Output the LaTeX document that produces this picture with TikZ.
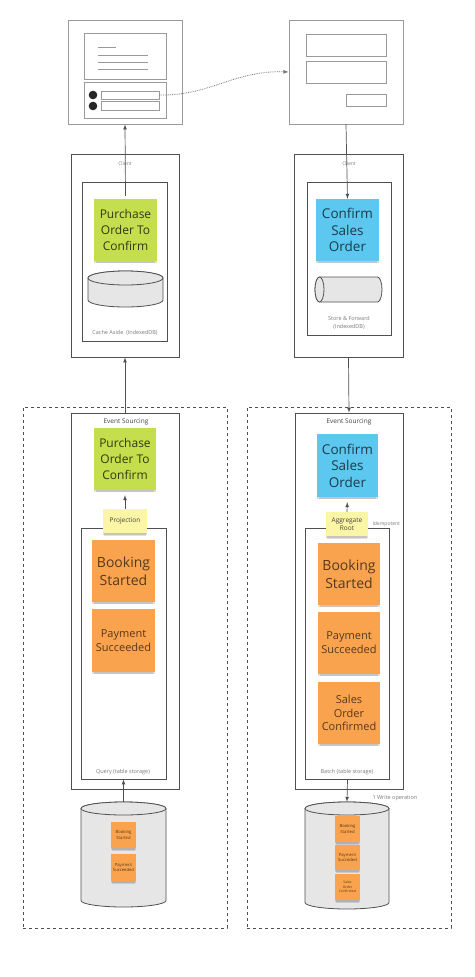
\documentclass[tikz,border=0pt]{standalone}
\usepackage{fontspec}
\setmainfont{Open Sans}
\usetikzlibrary{shadows}

\definecolor{stgreen}{HTML}{C5DE4E}
\definecolor{stblue}{HTML}{5CC8F0}
\definecolor{storange}{HTML}{F9A34E}
\definecolor{styellow}{HTML}{FBF6A6}
\definecolor{framegray}{HTML}{9A9A9A}
\definecolor{boxgray}{HTML}{505050}
\definecolor{labgray}{HTML}{7A7A7A}
\definecolor{dbfill}{HTML}{E6E6E6}

% upright database: centre x, top, bottom, x radius, y radius
\newcommand\drawdbv[5]{%
  \draw[dbline] (#1-#4,#2+#5) -- (#1-#4,#3-#5) arc (180:0:#4 and #5) -- (#1+#4,#2+#5) arc (0:-180:#4 and #5) -- cycle;
  \draw[dbline] (#1,#2+#5) ellipse (#4 and #5);}
% lying database: left, right, top, bottom, x radius
\newcommand\drawdbh[5]{%
  \draw[dbline] (#1+#5,#3) -- (#2-#5,#3) arc (-90:90:#5 and {(#4-#3)/2}) -- (#1+#5,#4) arc (90:270:#5 and {(#4-#3)/2}) -- cycle;
  \draw[dbline] (#1+#5,{(#3+#4)/2}) ellipse (#5 and {(#4-#3)/2});}

\begin{document}
\begin{tikzpicture}[x=1pt, y=-1pt,
    frame/.style = {draw=framegray, line width=0.9pt},
    box/.style = {draw=boxgray, line width=0.8pt},
    zone/.style = {draw=boxgray, line width=0.8pt, dashed},
    sticky/.style = {inner sep=1pt, align=center,
        drop shadow={shadow xshift=0pt, shadow yshift=-2pt, opacity=.12, fill=black},
        drop shadow={shadow xshift=0pt, shadow yshift=-4pt, shadow scale=0.94, opacity=.12, fill=black}},
    green/.style = {sticky, fill=stgreen, text=black!75!stgreen},
    blue/.style = {sticky, fill=stblue, text=black!70!stblue},
    orange/.style = {sticky, fill=storange, text=black!65!storange},
    note/.style = {sticky, fill=styellow, text=black!75, font=\fontsize{6.5}{7.5}\selectfont},
    dbline/.style = {draw=boxgray, fill=dbfill, line width=0.8pt},
    db/.style = {inner sep=0pt},
    lab/.style = {text=labgray, font=\fontsize{5}{6}\selectfont, align=center},
    ar/.style = {draw=boxgray, line width=0.7pt, -latex}]
    \useasboundingbox (0,0) rectangle (474,977);

    % browser screens
    \node[frame, minimum width=114pt, minimum height=104pt] (browserL) at (125,72) {};
    \node[frame, minimum width=82pt, minimum height=46pt] (textL) at (125,56) {};
    \node[frame, minimum width=82pt, minimum height=36pt] (formL) at (125,100) {};
    \draw[framegray, line width=0.8pt] (98,47) -- (116,47);
    \draw[framegray, line width=0.8pt] (98,55) -- (148,55);
    \draw[framegray, line width=0.8pt] (98,62) -- (148,62);
    \draw[framegray, line width=0.8pt] (98,69) -- (148,69);
    \node[circle, fill=black!85, minimum size=8.6pt, inner sep=0pt] (dot1) at (93,95) {};
    \node[circle, fill=black!85, minimum size=8.6pt, inner sep=0pt] (dot2) at (93,106) {};
    \node[frame, minimum width=58pt, minimum height=8pt, inner sep=0pt] (in1) at (130,95) {};
    \node[frame, minimum width=58pt, minimum height=9pt, inner sep=0pt] (in2) at (130,105.5) {};

    \node[frame, minimum width=114pt, minimum height=104pt] (browserR) at (346,72) {};
    \node[frame, minimum width=80pt, minimum height=22pt] (fieldR1) at (346,45) {};
    \node[frame, minimum width=80pt, minimum height=22pt] (fieldR2) at (346,72) {};
    \node[frame, minimum width=40pt, minimum height=12pt] (btnR) at (366,100) {};

    % clients
    \node[box, minimum width=108pt, minimum height=203pt] (clientL) at (125,255.5) {};
    \node[lab] (clientLlab) at (125,164) {Client};
    \node[box, minimum width=85pt, minimum height=159pt] (cacheL) at (124.5,261.5) {};
    \node[green, minimum width=63pt, minimum height=62pt, font=\fontsize{12}{16}\selectfont] (po1) at (125.5,230) {Purchase\\Order To\\Confirm};
    \drawdbv{125.5}{271}{307}{37.5}{7}
    \node[db, minimum width=75pt, minimum height=36pt] (cacheDb) at (125.5,289) {};
    \node[lab, font=\fontsize{5.5}{6.5}\selectfont] (cacheLab) at (125,333) {Cache Aside\ \ (IndexedDB)};

    \node[box, minimum width=109pt, minimum height=203pt] (clientR) at (348.5,255.5) {};
    \node[lab] (clientRlab) at (349,164) {Client};
    \node[box, minimum width=84pt, minimum height=153pt] (storeR) at (349,258.5) {};
    \node[blue, minimum width=63pt, minimum height=62pt, font=\fontsize{13.5}{16.5}\selectfont] (cso1) at (347.5,230) {Confirm\\Sales\\Order};
    \drawdbh{315}{382}{277}{302}{4.5}
    \node[db, minimum width=67pt, minimum height=25pt] (storeDb) at (348.5,289.5) {};
    \node[lab, font=\fontsize{5.5}{8}\selectfont] (storeLab) at (349,323) {Store \& Forward\\(IndexedDB)};

    % event sourcing, query side
    \node[zone, minimum width=204pt, minimum height=521pt] (zoneL) at (125,667.5) {};
    \node[box, minimum width=108pt, minimum height=376pt] (esL) at (125,601) {};
    \node[font=\fontsize{6.5}{7.5}\selectfont, text=black!75] (esLlab) at (126,422) {Event Sourcing};
    \node[green, minimum width=62pt, minimum height=62pt, font=\fontsize{12}{16}\selectfont] (po2) at (125,459) {Purchase\\Order To\\Confirm};
    \node[box, minimum width=85pt, minimum height=251pt] (queryL) at (123.5,653.5) {};
    \node[lab, font=\fontsize{5.5}{6.5}\selectfont] (queryLab) at (123,772) {Query (table storage)};
    \node[note, minimum width=44pt, minimum height=24pt] (proj) at (125,521) {Projection};
    \node[orange, minimum width=63pt, minimum height=62pt, font=\fontsize{14}{18}\selectfont] (bsL) at (123.5,571) {Booking\\Started};
    \node[orange, minimum width=63pt, minimum height=63pt, font=\fontsize{11}{14}\selectfont] (psL) at (123.5,640.5) {Payment\\Succeeded};
    \drawdbv{123.5}{802}{907}{42.5}{6.5}
    \node[db, minimum width=85pt, minimum height=105pt] (tableL) at (123.5,854.5) {};
    \node[orange, minimum width=25pt, minimum height=26pt, font=\fontsize{4.2}{5.5}\selectfont, inner sep=0pt] (bsLmini) at (123.5,835) {Booking\\Started};
    \node[orange, minimum width=25pt, minimum height=27pt, font=\fontsize{4.2}{5.5}\selectfont, inner sep=0pt] (psLmini) at (123.5,867.5) {Payment\\Succeeded};

    % event sourcing, write side
    \node[zone, minimum width=204pt, minimum height=521pt] (zoneR) at (349,667.5) {};
    \node[box, minimum width=108pt, minimum height=376pt] (esR) at (349,601) {};
    \node[font=\fontsize{6.5}{7.5}\selectfont, text=black!75] (esRlab) at (349,422) {Event Sourcing};
    \node[blue, minimum width=61pt, minimum height=63pt, font=\fontsize{13.5}{16.5}\selectfont] (cso2) at (347.5,465.5) {Confirm\\Sales\\Order};
    \node[box, minimum width=84pt, minimum height=251pt] (batchR) at (347.5,653.5) {};
    \node[lab, font=\fontsize{5.5}{6.5}\selectfont] (batchLab) at (347,772) {Batch (table storage)};
    \node[note, minimum width=42pt, minimum height=24pt, font=\fontsize{6.5}{7.5}\selectfont] (aggr) at (347,524) {Aggregate\\Root};
    \node[lab, anchor=west] (idem) at (369,524) {Idempotent};
    \node[orange, minimum width=62pt, minimum height=62pt, font=\fontsize{14}{18}\selectfont] (bsR) at (349,574) {Booking\\Started};
    \node[orange, minimum width=62pt, minimum height=62pt, font=\fontsize{11}{14}\selectfont] (psR) at (349,643) {Payment\\Succeeded};
    \node[orange, minimum width=62pt, minimum height=62pt, font=\fontsize{11}{13.5}\selectfont] (socR) at (349,713) {Sales\\Order\\Confirmed};
    \drawdbv{347}{802}{909}{42}{6.5}
    \node[db, minimum width=84pt, minimum height=107pt] (tableR) at (347,855.5) {};
    \node[orange, minimum width=25pt, minimum height=26pt, font=\fontsize{4.2}{5.5}\selectfont, inner sep=0pt] (bsRmini) at (347.5,829) {Booking\\Started};
    \node[orange, minimum width=25pt, minimum height=25pt, font=\fontsize{4.2}{5.5}\selectfont, inner sep=0pt] (psRmini) at (347.5,857.5) {Payment\\Succeded};
    \node[orange, minimum width=25pt, minimum height=26pt, font=\fontsize{3.4}{4.6}\selectfont, inner sep=0pt] (socRmini) at (347.5,887) {Sales\\Order\\Confirmed};
    \node[lab, anchor=west, font=\fontsize{5.5}{6.5}\selectfont] (writeLab) at (369,798) {1 Write operation};

    % connectors
    \draw[ar] (po1.north) ++(0,-3) -- (browserL.south);
    \draw[ar] (browserR.south) -- (cso1.north);
    \draw[draw=black!55, line width=0.8pt, densely dotted, -latex] (in1.east) .. controls (210,96) and (235,70) .. (browserR.west);
    \draw[ar] (esL.north) -- (clientL.south);
    \draw[ar] (clientR.south) -- (esR.north);
    \draw[ar, shorten >=5pt] (proj.north) -- (po2.south);
    \draw[ar, shorten >=5pt] (aggr.north) -- (cso2.south);
    \draw[ar] (tableL.north) -- (queryL.south);
    \draw[ar] (batchR.south) -- (tableR.north);
\end{tikzpicture}
\end{document}
